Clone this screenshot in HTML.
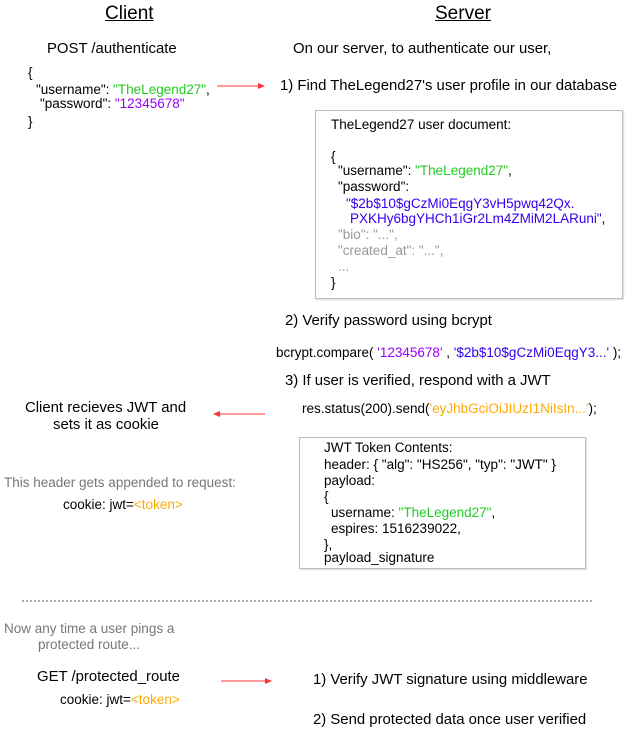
<!DOCTYPE html>
<html><head><meta charset="utf-8"><style>
body{margin:0;width:629px;height:731px;background:#fff;position:relative;overflow:hidden;font-family:"Liberation Sans",sans-serif;color:#000}
.t{position:absolute;white-space:nowrap;line-height:16px;font-size:13.5px}
.h{font-size:14.9px}
.g{color:#22cc22}.p{color:#9900ff}.b{color:#3300ee}.gr{color:#999}.o{color:#ffaa00}.gy{color:#777}
.box{position:absolute;border:1px solid #bbb;box-shadow:1px 1px 1px #ddd}
</style></head><body>
<div class="t" style="left:105px;top:2px;font-size:19px;line-height:24px;text-decoration:underline">Client</div>
<div class="t" style="left:435px;top:2px;font-size:19px;line-height:24px;text-decoration:underline">Server</div>

<div class="t h" style="left:47px;top:41px">POST /authenticate</div>
<div class="t" style="left:28px;top:65px">{</div>
<div class="t" style="left:36px;top:82px">"username": <span class="g">"TheLegend27"</span>,</div>
<div class="t" style="left:40px;top:96px">"password": <span class="p">"12345678"</span></div>
<div class="t" style="left:28px;top:114px">}</div>

<div class="t h" style="left:293px;top:41px">On our server, to authenticate our user,</div>
<div class="t h" style="left:280px;top:78px">1) Find TheLegend27's user profile in our database</div>

<div class="box" style="left:315px;top:110px;width:306px;height:187px"></div>
<div class="t" style="left:331px;top:117px">TheLegend27 user document:</div>
<div class="t" style="left:331px;top:149px">{</div>
<div class="t" style="left:338px;top:163px">"username": <span class="g">"TheLegend27"</span>,</div>
<div class="t" style="left:338px;top:179px">"password":</div>
<div class="t b" style="left:346px;top:196px">"$2b$10$gCzMi0EqgY3vH5pwq42Qx.</div>
<div class="t b" style="left:350px;top:211px">PXKHy6bgYHCh1iGr2Lm4ZMiM2LARuni"<span style="color:#000">,</span></div>
<div class="t gr" style="left:338px;top:227px">"bio": "...",</div>
<div class="t gr" style="left:338px;top:243px">"created_at": "...",</div>
<div class="t gr" style="left:338px;top:259px">...</div>
<div class="t" style="left:331px;top:275px">}</div>

<div class="t h" style="left:285px;top:313px">2) Verify password using bcrypt</div>
<div class="t" style="left:276px;top:345px">bcrypt.compare( <span class="p">'12345678'</span> , <span class="b">'$2b$10$gCzMi0EqgY3...'</span> );</div>
<div class="t h" style="left:285px;top:373px">3) If user is verified, respond with a JWT</div>
<div class="t" style="left:302px;top:401px">res.status(200).send(<span class="o">'eyJhbGciOiJIUzI1NiIsIn...'</span>);</div>

<div class="t h" style="left:25px;top:400px">Client recieves JWT and</div>
<div class="t h" style="left:53px;top:417px">sets it as cookie</div>

<div class="box" style="left:299px;top:437px;width:285px;height:130px"></div>
<div class="t" style="left:324px;top:440px">JWT Token Contents:</div>
<div class="t" style="left:324px;top:457px">header: { "alg": "HS256", "typ": "JWT" }</div>
<div class="t" style="left:324px;top:473px">payload:</div>
<div class="t" style="left:324px;top:489px">{</div>
<div class="t" style="left:331px;top:505px">username: <span class="g">"TheLegend27"</span>,</div>
<div class="t" style="left:331px;top:521px">espires: 1516239022,</div>
<div class="t" style="left:324px;top:537px">},</div>
<div class="t" style="left:324px;top:550px">payload_signature</div>

<div class="t gy" style="left:4px;top:475px">This header gets appended to request:</div>
<div class="t" style="left:63px;top:497px">cookie: jwt=<span class="o">&lt;token&gt;</span></div>

<div class="t gy" style="left:4px;top:621px">Now any time a user pings a</div>
<div class="t gy" style="left:38px;top:637px">protected route...</div>
<div class="t h" style="left:37px;top:669px">GET /protected_route</div>
<div class="t" style="left:60px;top:692px">cookie: jwt=<span class="o">&lt;token&gt;</span></div>
<div class="t h" style="left:313px;top:672px">1) Verify JWT signature using middleware</div>
<div class="t h" style="left:313px;top:712px">2) Send protected data once user verified</div>

<svg width="629" height="731" style="position:absolute;left:0;top:0">
<g stroke="#f33" stroke-width="1" fill="#f33">
<line x1="217" y1="86" x2="260" y2="86"/><polygon points="265,86 258,83 258,89" stroke="none"/>
<line x1="265" y1="414" x2="218" y2="414"/><polygon points="213,414 220,411 220,417" stroke="none"/>
<line x1="221" y1="681" x2="267" y2="681"/><polygon points="272,681 265,678 265,684" stroke="none"/>
</g>
<line x1="22" y1="601" x2="593" y2="601" stroke="#555" stroke-dasharray="2,2"/>
</svg>
</body></html>
